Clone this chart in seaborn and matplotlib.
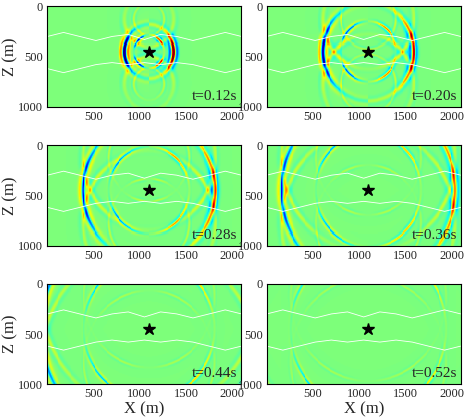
import numpy as np
import matplotlib
matplotlib.use("Agg")
import matplotlib.pyplot as plt
import seaborn as sns

times = [0.12, 0.20, 0.28, 0.36, 0.44, 0.52]
time_labels = ["t=0.12s", "t=0.20s", "t=0.28s", "t=0.36s", "t=0.44s", "t=0.52s"]
src_x, src_z = 1100, 450
vp, vs = 2800, 1700
t_delay = 0.025
x_ticks = [500, 1000, 1500, 2000]
z_ticks = [0, 500, 1000]
# interface control points (x, depth)
if_x = [0, 175, 350, 525, 700, 875, 1050, 1225, 1400, 1575, 1750, 1925, 2100]
if1_z = [300, 260, 300, 340, 300, 280, 330, 280, 300, 340, 300, 260, 300]
if2_z = [620, 660, 620, 580, 560, 580, 560, 580, 560, 580, 620, 660, 620]

sns.set_style("white")
plt.rcParams['font.family'] = ['Liberation Serif']

dx = 10
xs = np.arange(0, 2100, dx) + dx / 2
zs = np.arange(0, 1000, dx) + dx / 2
X, Z = np.meshgrid(xs, zs)
R = np.hypot(X - src_x, Z - src_z)
TH = np.arctan2(Z - src_z, X - src_x)

def ricker(u, w):
    a = (u / w) ** 2
    return (1 - 2 * a) * np.exp(-a)

def field(t):
    f = np.zeros_like(R)
    for v, w, pat, amp in [(vp, 30, np.cos(TH) ** 4 + 0.15, 1.0), (vs, 18, np.sin(2 * TH) ** 2 + 0.1, 0.5)]:
        rad = v * (t - t_delay)
        f += amp * pat * ricker(R - rad, w) * np.sign(np.cos(TH) + 1e-3) / np.sqrt(rad / 200)
        for zi in (290, 610):
            zimg = 2 * zi - src_z
            Ri = np.hypot(X - src_x, Z - zimg)
            f += 0.3 * amp * pat * ricker(Ri - rad, w) / np.sqrt(rad / 200)
    return f

fig, axes = plt.subplots(3, 2, figsize=(4.74, 4.2), dpi=100)
fig.subplots_adjust(left=0.09, right=0.972, top=0.985, bottom=0.085, wspace=0.13, hspace=0.38)
for i, ax in enumerate(axes.flat):
    f = field(times[i])
    sns.heatmap(f, ax=ax, cmap="jet", vmin=-0.8, vmax=0.8, cbar=False,
                xticklabels=False, yticklabels=False, rasterized=True)
    ax.plot(np.array(if_x) / dx, np.array(if1_z) / dx, color="white", lw=0.6)
    ax.plot(np.array(if_x) / dx, np.array(if2_z) / dx, color="white", lw=0.6)
    ax.plot(src_x / dx, src_z / dx, marker="*", color="black", ms=9)
    ax.set_xticks(np.array(x_ticks) / dx)
    ax.set_xticklabels([str(v) for v in x_ticks], fontsize=9)
    ax.set_yticks(np.array(z_ticks) / dx)
    ax.set_yticklabels([str(v) for v in z_ticks], fontsize=9, rotation=0)
    ax.tick_params(length=2, pad=1)
    for s in ax.spines.values():
        s.set_visible(True); s.set_color("black"); s.set_linewidth(0.8)
    ax.text(0.98, 0.04, time_labels[i], transform=ax.transAxes, ha="right", va="bottom", fontsize=11)
    if i % 2 == 0:
        ax.set_ylabel("Z (m)", fontsize=12, labelpad=0)
    if i >= 4:
        ax.set_xlabel("X (m)", fontsize=12, labelpad=1)
fig.subplots_adjust(left=0.1)
fig.savefig("out.png", dpi=100)
